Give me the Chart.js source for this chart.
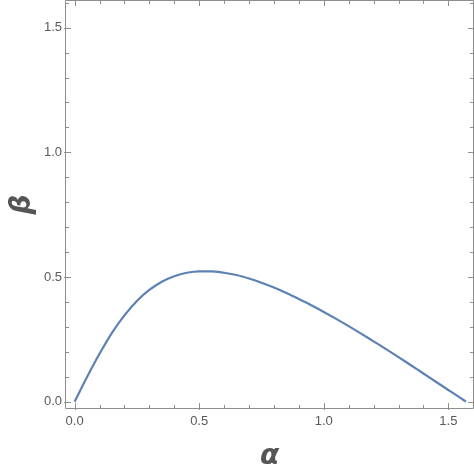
<!DOCTYPE html>
<html>
<head>
<meta charset="utf-8">
<script src="https://cdn.jsdelivr.net/npm/chart.js@4"></script>
<style>
  html, body { margin: 0; padding: 0; background: #fff; }
  canvas { display: block; }
</style>
</head>
<body>
<canvas id="plot" width="474" height="471"></canvas>
<script>
'use strict';

/* ── DATA ── */
const alphaValues = [0, 0.05, 0.1, 0.15, 0.2, 0.25, 0.3, 0.35, 0.4, 0.45, 0.5, 0.55,
  0.6, 0.65, 0.7, 0.75, 0.8, 0.85, 0.9, 0.95, 1.0, 1.05, 1.1, 1.15, 1.2, 1.25,
  1.3, 1.35, 1.4, 1.45, 1.5, 1.55, 1.5708];
const betaValues = [0, 0.099, 0.192, 0.276, 0.346, 0.404, 0.448, 0.481, 0.503, 0.517, 0.523, 0.523,
  0.517, 0.508, 0.494, 0.477, 0.458, 0.436, 0.412, 0.387, 0.360, 0.332, 0.303, 0.273, 0.242, 0.211,
  0.179, 0.146, 0.113, 0.080, 0.047, 0.014, 0];
const majorTicks = [0, 0.5, 1.0, 1.5];
const minorTicks = [0.1, 0.2, 0.3, 0.4, 0.6, 0.7, 0.8, 0.9, 1.1, 1.2, 1.3, 1.4, 1.6];

const frameColor = '#8e8e8e';
const labelColor = '#5a5a5a';

/* ── FRAME + INWARD TICKS ── */
const framePlugin = {
  id: 'frame',
  afterDraw(chart) {
    const { ctx, chartArea: a, scales } = chart;
    const xs = scales.x, ys = scales.y;
    ctx.save();
    ctx.strokeStyle = frameColor;
    ctx.lineWidth = 1;
    ctx.beginPath();
    ctx.rect(a.left - 0.5, a.top - 0.5, a.right - a.left + 1, a.bottom - a.top + 1);
    ctx.stroke();

    const tick = (v, len, out) => {
      const px = Math.round(xs.getPixelForValue(v)) + 0.5;
      if (px > a.left && px < a.right) {
        ctx.moveTo(px, a.bottom + out); ctx.lineTo(px, a.bottom - len);
        ctx.moveTo(px, a.top - out); ctx.lineTo(px, a.top + len);
      }
      const py = Math.round(ys.getPixelForValue(v)) + 0.5;
      if (py > a.top && py < a.bottom) {
        ctx.moveTo(a.left - out, py); ctx.lineTo(a.left + len, py);
        ctx.moveTo(a.right + out, py); ctx.lineTo(a.right - len, py);
      }
    };
    ctx.beginPath();
    majorTicks.forEach(v => tick(v, 5, 2));
    minorTicks.forEach(v => tick(v, 3, 0));
    ctx.stroke();
    ctx.restore();
  }
};

new Chart(document.getElementById('plot'), {
  type: 'scatter',
  data: {
    datasets: [{
      data: alphaValues.map((a, i) => ({ x: a, y: betaValues[i] })),
      showLine: true,
      borderColor: '#5e81b5',
      borderWidth: 2.2,
      pointRadius: 0,
      cubicInterpolationMode: 'monotone',
      fill: false
    }]
  },
  options: {
    responsive: false,
    animation: false,
    devicePixelRatio: 1,
    layout: { padding: { top: 1, right: 1, left: 0, bottom: 0 } },
    plugins: { legend: { display: false }, tooltip: { enabled: false } },
    scales: {
      x: {
        type: 'linear',
        min: -0.0345,
        max: 1.599,
        afterFit: s => { s.height = 63; s.paddingLeft = 0; s.paddingRight = 0; },
        grid: { display: false, drawTicks: false },
        border: { display: false },
        ticks: {
          stepSize: 0.5,
          includeBounds: false,
          padding: 6,
          color: labelColor,
          font: { family: 'Liberation Sans', size: 13 },
          callback: v => v.toFixed(1)
        },
        title: {
          display: true,
          text: 'α',
          color: '#555',
          padding: { top: 0, bottom: -3 },
          font: { family: 'DejaVu Sans', size: 28, style: 'italic', weight: 'bold' }
        }
      },
      y: {
        type: 'linear',
        min: -0.0253,
        max: 1.607,
        afterFit: s => { s.width = 66; s.paddingTop = 0; s.paddingBottom = 0; },
        grid: { display: false, drawTicks: false },
        border: { display: false },
        ticks: {
          stepSize: 0.5,
          includeBounds: false,
          padding: 4,
          color: labelColor,
          font: { family: 'Liberation Sans', size: 13 },
          callback: v => v.toFixed(1)
        },
        title: {
          display: true,
          text: 'β',
          color: '#555',
          padding: { top: 6, bottom: 0 },
          font: { family: 'DejaVu Sans', size: 28, style: 'italic', weight: 'bold' }
        }
      }
    }
  },
  plugins: [framePlugin]
});
</script>
</body>
</html>
